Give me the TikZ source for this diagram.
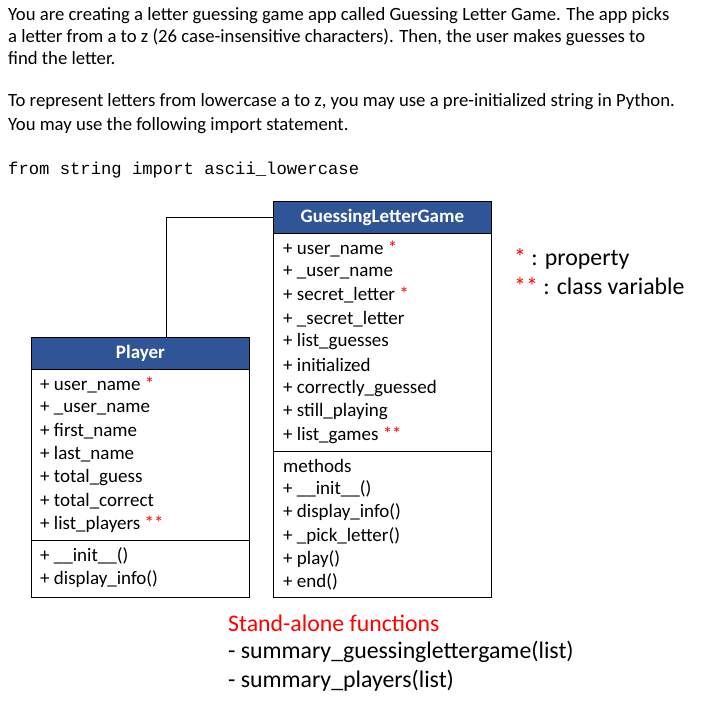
\documentclass[tikz,border=0pt]{standalone}
\usepackage{fontspec}
\setmainfont{Carlito}
\setmonofont{Liberation Mono}
\definecolor{hdr}{HTML}{2F5597}
\definecolor{rd}{HTML}{FF0000}
\begin{document}
\begin{tikzpicture}[x=1pt,y=-1pt,
  box/.style={draw,line width=0.9pt,inner sep=0},
  hbox/.style={draw,line width=0.9pt,fill=hdr,inner sep=0},
  itxt/.style={anchor=west,inner sep=0,font=\fontsize{18.7}{22}\selectfont},
  txt/.style={anchor=west,inner sep=0,font=\fontsize{19}{22}\selectfont},
  big/.style={anchor=west,inner sep=0,font=\fontsize{23.8}{28}\selectfont},
  htxt/.style={inner sep=0,text=white,font=\fontsize{19}{22}\selectfont\bfseries}]
\useasboundingbox (0,0) rectangle (704,704);
\newcommand{\st}{\textcolor{rd}{*}}
\node[itxt] (i1) at (8,16) {You are creating a letter guessing game app called Guessing Letter Game. The app picks};
\node[itxt] (i2) at (8,37) {a letter from a to z (26 case-insensitive characters). Then, the user makes guesses to};
\node[itxt] (i3) at (8,58) {find the letter.};
\node[itxt] (i4) at (8,102) {To represent letters from lowercase a to z, you may use a pre-initialized string in Python.};
\node[itxt] (i5) at (8,126) {You may use the following import statement.};
\node[itxt,font=\fontsize{17.2}{20}\ttfamily] (i6) at (8,170) {from string import ascii\_lowercase};
% GLG
\node[hbox,minimum width=218,minimum height=32,anchor=north west] (gh) at (273,201) {};
\node[htxt] (ght) at (gh.center) {GuessingLetterGame};
\node[box,minimum width=218,minimum height=218,anchor=north west] (ga) at (273,233) {};
\node[box,minimum width=218,minimum height=146,anchor=north west] (gm) at (273,451) {};
\foreach \t [count=\i from 0] in {+ user\_name \st, + \_user\_name, + secret\_letter \st, + \_secret\_letter, + list\_guesses, + initialized, + correctly\_guessed, + still\_playing, + list\_games \st\st}
  \node[txt] (ga\i) at (283,{249+23.25*\i}) {\t};
\foreach \t [count=\i from 0] in {methods, + \_\_init\_\_(), + display\_info(), + \_pick\_letter(), + play(), + end()}
  \node[txt] (gm\i) at (283,{466+23.2*\i}) {\t};
% Player
\node[hbox,minimum width=218,minimum height=32,anchor=north west] (ph) at (31,337) {};
\node[htxt] (pht) at (ph.center) {Player};
\node[box,minimum width=218,minimum height=171,anchor=north west] (pa) at (31,369) {};
\node[box,minimum width=218,minimum height=57,anchor=north west] (pm) at (31,540) {};
\foreach \t [count=\i from 0] in {+ user\_name \st, + \_user\_name, + first\_name, + last\_name, + total\_guess, + total\_correct, + list\_players \st\st}
  \node[txt] (pa\i) at (40,{385+23.2*\i}) {\t};
\node[txt] (pm0) at (40,556) {+ \_\_init\_\_()};
\node[txt] (pm1) at (40,579) {+ display\_info()};
\coordinate (c0) at (166,337);
\draw[line width=0.9pt] (c0) |- (gh.west);
% legend
\node[big] (l1) at (514,259) {\textcolor{rd}{*} : property};
\node[big] (l2) at (514,286) {\textcolor{rd}{**} : class variable};
% functions
\node[big,text=rd] (f1) at (228,623) {Stand-alone functions};
\node[big] (f2) at (228,652) {- summary\_guessinglettergame(list)};
\node[big] (f3) at (228,681) {- summary\_players(list)};
\end{tikzpicture}
\end{document}
